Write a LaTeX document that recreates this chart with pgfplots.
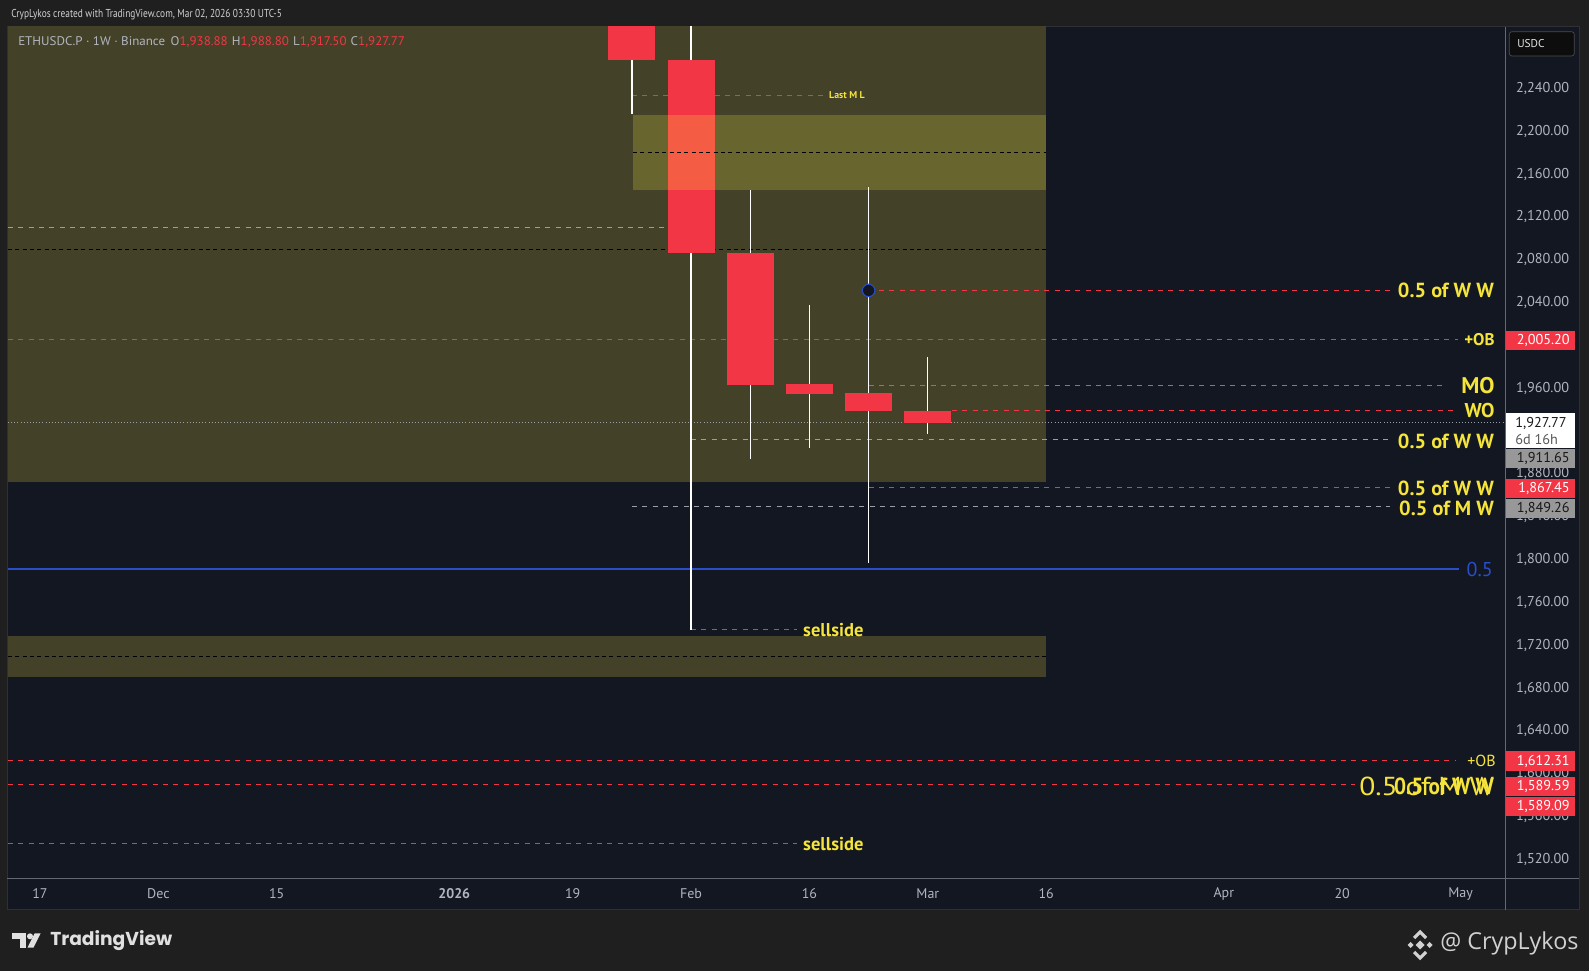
\documentclass[border=0pt]{standalone}
\usepackage{pgfplots}
\pgfplotsset{compat=1.18}
\usepackage{pgfplotstable}
\usepackage{graphicx}
\usepackage{fontspec}
\setmainfont{PT Sans}
\newfontfamily\pop{Poppins}
\newfontfamily\osans{Open Sans}
\definecolor{outerbg}{RGB}{31,31,31}
\definecolor{chartbg}{RGB}{19,23,34}
\definecolor{framec}{RGB}{48,48,52}
\definecolor{sepc}{RGB}{100,104,114}
\definecolor{tickc}{RGB}{178,181,190}
\definecolor{tvred}{RGB}{242,54,69}
\definecolor{zonec}{RGB}{255,245,67}
\definecolor{zonesolid}{RGB}{68,65,41}
\definecolor{labc}{RGB}{245,228,58}
\definecolor{glinec}{RGB}{155,158,166}
\definecolor{bluec}{RGB}{41,78,200}
\definecolor{mocol}{RGB}{232,82,70}
\definecolor{grayboxc}{RGB}{152,152,152}
\newcommand{\fs}[1]{\fontsize{#1}{#1}\selectfont}

\pgfplotstableread{
w open high low close
-1 2400 2450 2216.0 2266.5
0 2266.5 2400 1734.6 2086.4
1 2086.4 2145.5 1894.0 1962.8
2 1963.5 2037.6 1904.2 1954.5
3 1955.3 2147.8 1796.8 1938.88
4 1938.88 1988.80 1917.50 1927.77
}\candles

\tikzset{
  rdash/.style={tvred, line width=0.75pt, dash pattern=on 3.75pt off 4pt},
  gdash/.style={glinec, line width=0.75pt, dash pattern=on 3.75pt off 4pt},
  kdash/.style={black, line width=0.75pt, dash pattern=on 3pt off 2.5pt},
  lab/.style={text=labc, inner sep=0pt, font=\bfseries},
  pbox/.style={anchor=west, minimum height=14.7pt, text width=43.5pt, align=right, inner xsep=4.3pt, inner ysep=0pt, font=\fs{10.7}},
}

\begin{document}
\begin{tikzpicture}
\useasboundingbox (0,0) rectangle (1191.75pt,728.25pt);
\begin{scope}[shift={(0pt,728.25pt)}, x=0.75pt, y=-0.75pt]
  \fill[outerbg] (0,0) rectangle (1589,971);
  \filldraw[fill=chartbg, draw=framec, line width=0.75pt] (7,27) rectangle (1579,910);
\end{scope}

\begin{axis}[
  at={(6pt,69pt)}, anchor=south west, scale only axis,
  width=1123.125pt, height=639pt,
  xmin=-11.54, xmax=13.76, ymin=1501.7, ymax=2297.3,
  axis line style={draw=none}, major tick length=0pt, tick style={draw=none},
  ytick={1520,1560,1600,1640,1680,1720,1760,1800,1840,1880,1960,2040,2080,2120,2160,2200,2240},
  yticklabel pos=right,
  yticklabel={\pgfmathprintnumber[fixed,fixed zerofill,precision=2,1000 sep={,},assume math mode=true]{\tick}},
  yticklabel style={anchor=east, xshift=47.85pt, inner sep=0pt, text=tickc, font=\fs{10.7}},
  xtick={-11,-9,-7,-4,-2,0,2,4,6,9,11,13},
  xticklabels={17,Dec,15,\textbf{2026},19,Feb,16,Mar,16,Apr,20,May},
  xticklabel style={anchor=center, yshift=-11.25pt, inner sep=0pt, text=tickc, font=\fs{10.5}},
  clip=true,
]
% zones behind candles
\addplot[fill=zonesolid, draw=none] coordinates {(-11.6,1872.5) (6,1872.5) (6,2400) (-11.6,2400)} --cycle;
\addplot[fill=zonesolid, draw=none] coordinates {(-11.6,1690) (6,1690) (6,1729) (-11.6,1729)} --cycle;

% levels
\addplot[rdash] coordinates {(-1,2233.5) (2.26,2233.5)};
\addplot[gdash] coordinates {(-11.54,2110.1) (-0.05,2110.1)};
\addplot[kdash] coordinates {(-11.54,2089.6) (6,2089.6)};
\addplot[rdash] coordinates {(3,2051.3) (11.81,2051.3)};
\addplot[rdash] coordinates {(-11.54,2005.2) (12.96,2005.2)};
\addplot[mocol, line width=0.75pt, dash pattern=on 3.75pt off 4pt] coordinates {(3,1962.5) (12.74,1962.5)};
\addplot[rdash] coordinates {(4.41,1938.88) (12.96,1938.88)};
\addplot[glinec, line width=0.75pt, dash pattern=on 0.75pt off 1.6pt] coordinates {(-11.54,1927.77) (13.76,1927.77)};
\addplot[gdash] coordinates {(0,1911.65) (11.81,1911.65)};
\addplot[rdash] coordinates {(3,1867.45) (11.81,1867.45)};
\addplot[gdash] coordinates {(-1,1849.26) (11.81,1849.26)};
\addplot[bluec, line width=1.1pt] coordinates {(-11.54,1791) (12.97,1791)};
\addplot[rdash] coordinates {(0,1734.6) (1.785,1734.6)};
\addplot[kdash] coordinates {(-11.54,1709.5) (6,1709.5)};
\addplot[rdash] coordinates {(-11.54,1612.31) (12.92,1612.31)};
\addplot[rdash] coordinates {(-11.54,1589.59) (11.22,1589.59)};
\addplot[rdash] coordinates {(-11.54,1534.7) (1.785,1534.7)};

% candles: wicks then bodies
\addplot[only marks, mark size=0pt, mark options={draw opacity=0, fill opacity=0},
  error bars/.cd, y dir=plus, y explicit, error mark=none,
  error bar style={draw=white, draw opacity=1, line width=1pt}]
  table[x=w, y=low, y error plus expr=\thisrow{high}-\thisrow{low}] {\candles};
\addplot[only marks, mark size=0pt, mark options={draw opacity=0, fill opacity=0},
  error bars/.cd, y dir=plus, y explicit, error mark=none,
  error bar style={draw=tvred, draw opacity=1, line width=35.25pt}]
  table[x=w, y=close, y error plus expr=\thisrow{open}-\thisrow{close}] {\candles};

% inner zone above candles
\addplot[fill=zonec, fill opacity=0.2, draw=none] coordinates {(-0.98,2145) (6,2145) (6,2215.3) (-0.98,2215.3)} --cycle;
\addplot[kdash] coordinates {(-0.98,2180) (6,2180)};

% marker
\addplot[only marks, mark=*, mark size=4.7pt, mark options={fill=chartbg, draw=bluec, line width=0.8pt}] coordinates {(3,2051.3)};

% labels
\node[lab, anchor=west, font=\bfseries\fs{7.4}] at (axis cs:2.33,2233.5) {Last M L};
\node[lab, anchor=east, font=\bfseries\fs{15.3}] at (axis cs:13.57,2051.3) {0.5 of W W};
\node[lab, anchor=east, font=\bfseries\fs{12.7}] at (axis cs:13.58,2005.2) {+OB};
\node[lab, anchor=east, font=\bfseries\fs{17}] at (axis cs:13.58,1962.5) {MO};
\node[lab, anchor=east, font=\bfseries\fs{15}] at (axis cs:13.58,1938.88) {WO};
\node[lab, anchor=east, font=\bfseries\fs{15.3}] at (axis cs:13.57,1910.5) {0.5 of W W};
\node[lab, anchor=east, font=\bfseries\fs{15.3}] at (axis cs:13.57,1866.5) {0.5 of W W};
\node[lab, anchor=east, font=\bfseries\fs{15.3}] at (axis cs:13.57,1848.2) {0.5 of M W};
\node[text=bluec, inner sep=0pt, anchor=east, font=\fs{15}] at (axis cs:13.55,1791) {0.5};
\node[lab, anchor=west, font=\bfseries\fs{13.9}] at (axis cs:1.89,1734.6) {sellside};
\node[lab, anchor=west, font=\bfseries\fs{13.9}] at (axis cs:1.89,1534.7) {sellside};
\node[text=labc, inner sep=0pt, anchor=east, font=\fs{12}] at (axis cs:13.6,1612.31) {+OB};
\node[text=labc, inner sep=0pt, anchor=east, font=\fs{19.5}] at (axis cs:13.57,1588.2) {\resizebox{101pt}{\height}{0.5 of M W}};
\node[text=labc, inner sep=0pt, anchor=east, font=\bfseries\fs{17.5}] at (axis cs:13.57,1588.2) {\resizebox{75pt}{\height}{0.5 of W W}};
\end{axis}

\begin{scope}[shift={(0pt,728.25pt)}, x=0.75pt, y=-0.75pt]
  % separators
  \draw[sepc, line width=0.75pt] (1505.5,27) -- (1505.5,910);
  \draw[sepc, line width=0.75pt] (7,879) -- (1579,879);
  % USDC box
  \filldraw[fill=black!95, draw=black!70!white, rounded corners=2pt, line width=0.5pt] (1509.3,31.7) rectangle (1574.3,56);
  \node[anchor=west, inner sep=0pt, text=white!90!black, font=\fs{8.5}] at (1517,44) {USDC};
  % price boxes
  \node[pbox, fill=tvred, text=white] at (1505.7,340.7) {2,005.20};
  \fill[white] (1505.7,413.3) rectangle (1575,448.3);
  \node[anchor=west, inner sep=0pt, text=black!90, font=\fs{10.7}] at (1515,423.3) {1,927.77};
  \node[anchor=west, inner sep=0pt, text=black!65, font=\fs{10.7}] at (1515,440) {6d 16h};
  \node[pbox, fill=grayboxc, text=black!90] at (1505.7,458.6) {1,911.65};
  \node[pbox, fill=tvred, text=white] at (1505.7,488.6) {1,867.45};
  \node[pbox, fill=grayboxc, text=black!90] at (1505.7,508.7) {1,849.26};
  \node[pbox, fill=tvred, text=white] at (1505.7,761.3) {1,612.31};
  \node[pbox, fill=tvred, text=white] at (1505.7,786.5) {1,589.59};
  \node[pbox, fill=tvred, text=white] at (1505.7,806.5) {1,589.09};
  % header
  \node[anchor=west, inner sep=0pt, text=white!82!black, font=\fs{8.6}] at (11,14.2) {\resizebox{203pt}{\height}{CrypLykos created with TradingView.com, Mar 02, 2026 03:30 UTC-5}};
  \node[anchor=west, inner sep=0pt, text=tickc, font=\fs{9.4}] at (18,41.5) {\resizebox{290pt}{\height}{ETHUSDC.P · 1W · Binance\hspace{4pt}O\textcolor{tvred}{1,938.88}\hspace{3pt}H\textcolor{tvred}{1,988.80}\hspace{3pt}L\textcolor{tvred}{1,917.50}\hspace{3pt}C\textcolor{tvred}{1,927.77}}};
  % footer TradingView logo
  \fill[white!88!black] (12,933.3) rectangle (26,939.5);
  \fill[white!88!black] (19.5,933.3) rectangle (26,947.7);
  \fill[white!88!black] (30,936.3) circle (3);
  \fill[white!88!black] (27.5,947.7) -- (33.5,947.7) -- (40.7,933.3) -- (34.7,933.3) -- cycle;
  \node[anchor=west, inner sep=0pt, text=white!88!black, font=\pop\bfseries\fs{14}] at (50,940.5) {TradingView};
  % Binance logo
  \begin{scope}[shift={(1420,945)}]
    \fill[white!82!black] (0,-4.5) -- (4.5,0) -- (0,4.5) -- (-4.5,0) -- cycle;
    \fill[white!82!black] (-9.5,-3) -- (-6.5,0) -- (-9.5,3) -- (-12.5,0) -- cycle;
    \fill[white!82!black] (9.5,-3) -- (12.5,0) -- (9.5,3) -- (6.5,0) -- cycle;
    \draw[white!82!black, line width=2.4pt] (-6,-7) -- (0,-13) -- (6,-7);
    \draw[white!82!black, line width=2.4pt] (-6,7) -- (0,13) -- (6,7);
  \end{scope}
  \node[anchor=west, inner sep=0pt, text=white!82!black, font=\osans\fs{17.5}] at (1440,943.3) {@ CrypLykos};
\end{scope}
\end{tikzpicture}
\end{document}
